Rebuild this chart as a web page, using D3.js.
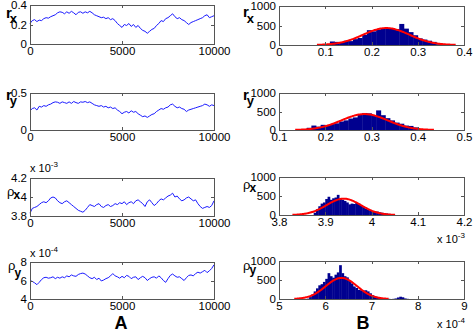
<!DOCTYPE html>
<html>
<head>
<meta charset="utf-8">
<script src="https://cdn.jsdelivr.net/npm/d3@7"></script>
<style>
  body { margin: 0; background: #fff; }
  svg { display: block; }
  text { font-family: "Liberation Sans", Arial, sans-serif; }
</style>
</head>
<body>
<svg id="chart" width="474" height="332"></svg>
<script>
// MCMC traces (one sample every 125 iterations)
var sampleStep = 125;

var rxTrace = [
  0.21, 0.24, 0.25, 0.23, 0.245, 0.24, 0.26, 0.27, 0.265,
  0.28, 0.29, 0.30, 0.32, 0.33, 0.325, 0.31, 0.33,
  0.315, 0.335, 0.32, 0.30, 0.325, 0.33, 0.315, 0.33,
  0.32, 0.335, 0.32, 0.30, 0.29, 0.28, 0.27, 0.275,
  0.26, 0.27, 0.25, 0.26, 0.24, 0.21, 0.19, 0.17,
  0.20, 0.19, 0.21, 0.18, 0.20, 0.17, 0.19, 0.16,
  0.14, 0.13, 0.11, 0.13, 0.15, 0.16, 0.19, 0.21,
  0.24, 0.23, 0.26, 0.27, 0.29, 0.31, 0.28, 0.26,
  0.27, 0.25, 0.24, 0.22, 0.20, 0.22, 0.23, 0.24,
  0.25, 0.26, 0.27, 0.29, 0.30, 0.27, 0.28, 0.29
];

var ryTrace = [
  0.26, 0.29, 0.30, 0.27, 0.32, 0.31, 0.33, 0.32, 0.34,
  0.35, 0.37, 0.38, 0.375, 0.36, 0.38, 0.37, 0.36,
  0.38, 0.36, 0.385, 0.37, 0.36, 0.38, 0.375, 0.385,
  0.37, 0.38, 0.36, 0.34, 0.33, 0.32, 0.33, 0.31,
  0.32, 0.30, 0.31, 0.29, 0.30, 0.27, 0.25, 0.22,
  0.24, 0.25, 0.23, 0.26, 0.24, 0.25, 0.22, 0.20,
  0.18, 0.19, 0.17, 0.19, 0.21, 0.22, 0.25, 0.27,
  0.29, 0.28, 0.30, 0.31, 0.34, 0.35, 0.32, 0.30,
  0.31, 0.29, 0.28, 0.25, 0.27, 0.28, 0.29, 0.30,
  0.31, 0.32, 0.33, 0.35, 0.34, 0.32, 0.34, 0.33
];

// rho_x in units of 1e-3
var rhoXTrace = [
  3.83, 3.88, 3.89, 3.90, 3.92, 3.94, 3.95, 3.94, 3.96,
  3.99, 4.00, 3.99, 3.96, 3.94, 3.93, 3.95, 3.96,
  3.94, 3.92, 3.90, 3.88, 3.86, 3.85, 3.84, 3.86,
  3.89, 3.92, 3.91, 3.90, 3.92, 3.93, 3.90, 3.89,
  3.91, 3.92, 3.90, 3.91, 3.93, 3.92, 3.94, 3.93,
  3.95, 3.92, 3.94, 3.95, 3.93, 3.96, 3.97, 3.95,
  3.93, 3.90, 3.95, 3.97, 3.94, 3.91, 3.93, 3.96,
  3.98, 3.97, 3.99, 4.01, 4.02, 4.04, 4.00, 4.01,
  3.98, 3.96, 3.97, 3.99, 4.00, 3.98, 3.96, 3.97,
  3.93, 3.90, 3.88, 3.89, 3.90, 3.89, 3.91, 3.96
];

// rho_y in units of 1e-4
var rhoYTrace = [
  6.0, 5.9, 5.75, 5.55, 5.8, 6.1, 6.3, 6.35, 6.25,
  6.3, 6.4, 6.2, 6.35, 6.25, 6.4, 6.3, 6.5,
  6.4, 6.6, 6.5, 6.45, 6.65, 6.75, 6.8, 6.7,
  6.5, 6.3, 6.2, 6.35, 6.1, 6.25, 5.95, 6.05,
  6.2, 6.3, 6.5, 6.75, 6.5, 6.4, 6.25, 6.45,
  6.3, 6.55, 6.45, 6.2, 6.35, 6.4, 6.1, 6.3,
  6.45, 6.3, 6.0, 6.2, 6.35, 6.4, 6.25, 6.5,
  6.3, 6.0, 5.8, 6.2, 6.55, 6.7, 6.5, 6.35,
  6.4, 6.2, 6.0, 6.3, 6.55, 6.6, 6.5, 6.75,
  6.9, 6.8, 6.95, 7.1, 6.85, 7.05, 7.3, 7.7
];

// posterior histograms: first bin edge, bin width, counts
var rxBins = [0.11, 0.01];
var rxCounts = [90, 80, 60, 110, 100, 150, 180, 260, 380, 350, 400, 420,
  440, 430, 410, 540, 420, 330, 250, 170, 140, 110, 80, 20];

var ryBins = [0.16, 0.01];
var ryCounts = [60, 120, 90, 140, 110, 160, 180, 230, 260, 310, 340, 430,
  460, 450, 400, 530, 400, 320, 260, 200, 170, 120, 110, 70];

var rhoXBins = [3.875, 0.005];
var rhoXCounts = [60, 150, 230, 300, 330, 420, 480, 400, 440, 460, 530, 430,
  400, 370, 330, 280, 300, 290, 320, 300, 260, 220, 170, 140, 120, 100,
  80, 90, 70, 60, 50, 40, 30, 20, 10];

var rhoYBins = [5.60, 0.05];
var rhoYCounts = [10, 50, 120, 200, 280, 360, 390, 450, 530, 680, 600, 560,
  640, 700, 890, 680, 600, 570, 480, 410, 330, 290, 240, 230, 220, 230,
  200, 150, 100, 70, 40, 25, 15, 10, 5, 5, 0, 5, 15, 40, 60, 45, 15, 5];

// normal fits: mean, sd, peak height
var rxFit = [0.232, 0.05, 435];
var ryFit = [0.285, 0.05, 430];
var rhoXFit = [3.94, 0.037, 430];
var rhoYFit = [6.35, 0.34, 555];

// axis ticks
var iterTicks = [0, 5000, 10000];
var countTicks = [0, 500, 1000];

var svg = d3.select('#chart');
svg.append('rect').attr('width', 474).attr('height', 332).attr('fill', '#fff');

var boxColor = '#555';
var tickFont = 11.5;

function frame(g, x, y, xTicks, yTicks) {
  var x0 = x.range()[0], x1 = x.range()[1];
  var y0 = y.range()[1], y1 = y.range()[0];

  g.append('g')
    .attr('transform', 'translate(0,' + y1 + ')')
    .call(d3.axisBottom(x).tickValues(xTicks).tickSizeInner(-3).tickSizeOuter(0)
      .tickPadding(3).tickFormat(d3.format('~g')))
    .call(styleAxis);
  g.append('g')
    .attr('transform', 'translate(0,' + y0 + ')')
    .call(d3.axisTop(x).tickValues(xTicks).tickSizeInner(-3).tickSizeOuter(0)
      .tickFormat(''))
    .call(styleAxis);
  g.append('g')
    .attr('transform', 'translate(' + x0 + ',0)')
    .call(d3.axisLeft(y).tickValues(yTicks).tickSizeInner(-3).tickSizeOuter(0)
      .tickPadding(3).tickFormat(d3.format('~g')))
    .call(styleAxis);
  g.append('g')
    .attr('transform', 'translate(' + x1 + ',0)')
    .call(d3.axisRight(y).tickValues(yTicks).tickSizeInner(-3).tickSizeOuter(0)
      .tickFormat(''))
    .call(styleAxis);

  g.append('rect')
    .attr('x', x0).attr('y', y0)
    .attr('width', x1 - x0).attr('height', y1 - y0)
    .attr('fill', 'none')
    .attr('stroke', boxColor)
    .attr('stroke-width', 1)
    .attr('shape-rendering', 'crispEdges');
}

function styleAxis(ax) {
  ax.select('.domain').remove();
  ax.attr('font-family', null).attr('font-size', null);
  ax.selectAll('line')
    .attr('stroke', boxColor)
    .attr('shape-rendering', 'crispEdges');
  ax.selectAll('text')
    .attr('fill', '#000')
    .style('font-size', tickFont + 'px');
}

// variable name with bold subscript, e.g. r_x or rho_y
function varLabel(g, base, sub, greek, x, y, subY) {
  g.append('text')
    .attr('x', x).attr('y', y)
    .style('font-size', greek ? '13px' : '15px')
    .style('font-weight', greek ? 'normal' : 'bold')
    .text(base);
  g.append('text')
    .attr('x', x + (greek ? 6.5 : 3.8)).attr('y', subY)
    .style('font-size', greek ? '12px' : '13px')
    .style('font-weight', 'bold')
    .text(sub);
}

// "x 10^n" multiplier
function multiplier(g, x, y, power) {
  var t = g.append('text')
    .attr('x', x).attr('y', y)
    .style('font-size', '11px');
  t.append('tspan').text('x 10');
  t.append('tspan')
    .attr('dy', -5)
    .style('font-size', '8px')
    .text(power);
}

function tracePanel(values, yDomain, yTicks, top, bottom) {
  var g = svg.append('g');
  var x = d3.scaleLinear().domain([0, 10000]).range([30, 214]);
  var y = d3.scaleLinear().domain(yDomain).range([bottom, top]);

  var line = d3.line()
    .x(function (d, i) { return x(i * sampleStep); })
    .y(function (d) { return y(d); });

  g.append('path')
    .datum(values)
    .attr('d', line)
    .attr('fill', 'none')
    .attr('stroke', '#1a1aff')
    .attr('stroke-width', 1)
    .attr('stroke-linejoin', 'round');

  frame(g, x, y, iterTicks, yTicks);
  return g;
}

function histPanel(bins, counts, fit, xDomain, xTicks, top, bottom) {
  var g = svg.append('g');
  var x = d3.scaleLinear().domain(xDomain).range([279, 464]);
  var y = d3.scaleLinear().domain([0, 1000]).range([bottom, top]);

  g.selectAll('rect.bar')
    .data(counts)
    .enter().append('rect')
    .attr('class', 'bar')
    .attr('x', function (d, i) { return x(bins[0] + i * bins[1]); })
    .attr('y', function (d) { return y(d); })
    .attr('width', function (d, i) {
      return x(bins[0] + (i + 1) * bins[1]) - x(bins[0] + i * bins[1]) + 0.4;
    })
    .attr('height', function (d) { return y(0) - y(d); })
    .attr('fill', '#00008f');

  // fitted normal density, drawn over mean +/- 3 sd
  var mu = fit[0], sd = fit[1], peak = fit[2];
  var xs = d3.range(0, 121).map(function (k) { return mu - 3 * sd + k * sd / 20; });
  var curve = d3.line()
    .x(function (v) { return x(v); })
    .y(function (v) { return y(peak * Math.exp(-0.5 * Math.pow((v - mu) / sd, 2))); })
    .curve(d3.curveBasis);

  g.append('path')
    .datum(xs)
    .attr('d', curve)
    .attr('fill', 'none')
    .attr('stroke', '#ff0000')
    .attr('stroke-width', 2);

  frame(g, x, y, xTicks, countTicks);
  return g;
}

// column A: traces
var a1 = tracePanel(rxTrace, [0, 0.4], [0, 0.2, 0.4], 5, 44);
varLabel(a1, 'r', 'x', false, 6, 18, 23);

var a2 = tracePanel(ryTrace, [0, 0.5], [0, 0.5], 93, 130);
varLabel(a2, 'r', 'y', false, 6, 100, 105);

var a3 = tracePanel(rhoXTrace, [3.8, 4.2], [3.8, 4, 4.2], 178, 216);
varLabel(a3, 'ρ', 'x', true, 7, 196, 199);
multiplier(a3, 30, 172, '-3');

var a4 = tracePanel(rhoYTrace, [4, 8], [4, 6, 8], 262, 299);
varLabel(a4, 'ρ', 'y', true, 8, 270, 277);
multiplier(a4, 30, 257, '-4');

// column B: posterior histograms with normal fits
var b1 = histPanel(rxBins, rxCounts, rxFit, [0, 0.4], [0, 0.1, 0.2, 0.3, 0.4], 6, 45);
varLabel(b1, 'r', 'x', false, 243, 17, 23);

var b2 = histPanel(ryBins, ryCounts, ryFit, [0.1, 0.5], [0.1, 0.2, 0.3, 0.4, 0.5], 93, 130);
varLabel(b2, 'r', 'y', false, 243, 100, 105);

var b3 = histPanel(rhoXBins, rhoXCounts, rhoXFit, [3.8, 4.2], [3.8, 3.9, 4, 4.1, 4.2], 177, 215);
varLabel(b3, 'ρ', 'x', true, 243, 189, 192);
multiplier(b3, 437, 243, '-3');

var b4 = histPanel(rhoYBins, rhoYCounts, rhoYFit, [5, 9], [5, 6, 7, 8, 9], 261, 299);
varLabel(b4, 'ρ', 'y', true, 243, 270, 274);
multiplier(b4, 437, 328, '-4');

// column captions
svg.append('text')
  .attr('x', 121).attr('y', 329)
  .attr('text-anchor', 'middle')
  .style('font-size', '18px')
  .style('font-weight', 'bold')
  .text('A');
svg.append('text')
  .attr('x', 363).attr('y', 329)
  .attr('text-anchor', 'middle')
  .style('font-size', '18px')
  .style('font-weight', 'bold')
  .text('B');
</script>
</body>
</html>
